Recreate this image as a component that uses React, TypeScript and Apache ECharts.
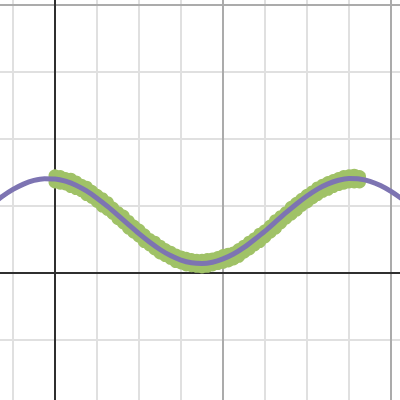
import React, { useEffect, useRef } from "react";
import * as echarts from "echarts";

// fitted curve, sampled every quarter unit
const curveX = [-1.5, -1.25, -1, -0.75, -0.5, -0.25, 0, 0.25, 0.5, 0.75, 1, 1.25, 1.5, 1.75, 2, 2.25, 2.5, 2.75, 3, 3.25, 3.5, 3.75, 4, 4.25, 4.5, 4.75, 5, 5.25, 5.5, 5.75, 6, 6.25, 6.5, 6.75, 7, 7.25, 7.5, 7.75, 8, 8.25, 8.5];
const curveY = [1.025, 1.145, 1.247, 1.327, 1.382, 1.408, 1.404, 1.371, 1.31, 1.224, 1.117, 0.994, 0.861, 0.723, 0.588, 0.463, 0.351, 0.26, 0.193, 0.153, 0.142, 0.161, 0.21, 0.283, 0.382, 0.501, 0.626, 0.763, 0.9, 1.03, 1.149, 1.252, 1.33, 1.384, 1.409, 1.403, 1.369, 1.307, 1.219, 1.111, 0.988];

// data points: x values, upper and lower edge of the band
const pointX = [0, 0.125, 0.25, 0.375, 0.5, 0.625, 0.75, 0.875, 1, 1.125, 1.25, 1.375, 1.5, 1.625, 1.75, 1.875, 2, 2.125, 2.25, 2.375, 2.5, 2.625, 2.75, 2.875, 3, 3.125, 3.25, 3.375, 3.5, 3.625, 3.75, 3.875, 4, 4.125, 4.25, 4.375, 4.5, 4.625, 4.75, 4.875, 5, 5.125, 5.25, 5.375, 5.5, 5.625, 5.75, 5.875, 6, 6.125, 6.25, 6.375, 6.5, 6.625, 6.75, 6.875, 7, 7.125, 7.25];
const upperY = [1.45, 1.44, 1.41, 1.4, 1.36, 1.31, 1.28, 1.22, 1.16, 1.11, 1.05, 0.97, 0.9, 0.85, 0.77, 0.7, 0.64, 0.57, 0.5, 0.46, 0.4, 0.35, 0.31, 0.27, 0.24, 0.22, 0.2, 0.19, 0.19, 0.2, 0.21, 0.23, 0.26, 0.28, 0.3, 0.35, 0.4, 0.46, 0.51, 0.58, 0.63, 0.7, 0.78, 0.84, 0.9, 0.98, 1.04, 1.1, 1.16, 1.21, 1.27, 1.31, 1.35, 1.38, 1.41, 1.44, 1.45, 1.46, 1.44];
const lowerY = [1.36, 1.34, 1.33, 1.29, 1.26, 1.23, 1.17, 1.13, 1.07, 1.0, 0.95, 0.89, 0.81, 0.75, 0.67, 0.61, 0.55, 0.47, 0.42, 0.36, 0.3, 0.26, 0.22, 0.17, 0.15, 0.12, 0.11, 0.1, 0.09, 0.1, 0.12, 0.14, 0.16, 0.18, 0.21, 0.25, 0.31, 0.36, 0.42, 0.47, 0.54, 0.61, 0.67, 0.75, 0.82, 0.88, 0.94, 1.01, 1.06, 1.12, 1.17, 1.22, 1.25, 1.29, 1.32, 1.34, 1.36, 1.36, 1.36];

// grid lines
const xMinor = [-1, 1, 2, 3, 5, 6, 7];
const xMajor = [4, 8];
const yMinor = [-1, 1, 2, 3];
const yMajor = [4];

const X_MIN = -55 / 42;
const X_MAX = 345 / 42;
const Y_MIN = -127 / 67;
const Y_MAX = 273 / 67;

const vLines = (vals: number[], color: string) =>
  vals.map((v) => ({ xAxis: v, lineStyle: { color, width: 2, type: "solid" } }));
const hLines = (vals: number[], color: string) =>
  vals.map((v) => ({ yAxis: v, lineStyle: { color, width: 2, type: "solid" } }));

const App: React.FC = () => {
  const chartRef = useRef<HTMLDivElement>(null);

  useEffect(() => {
    document.body.style.margin = "0";
    let myChart: echarts.ECharts | null = null;
    if (chartRef.current) {
      myChart = echarts.init(chartRef.current, undefined, { renderer: "svg" });
      myChart.setOption({
        animation: false,
        backgroundColor: "#ffffff",
        grid: { left: 0, right: 0, top: 0, bottom: 0 },
        xAxis: { type: "value", min: X_MIN, max: X_MAX, show: false },
        yAxis: { type: "value", min: Y_MIN, max: Y_MAX, show: false },
        series: [
          {
            type: "line",
            data: [],
            z: 1,
            silent: true,
            markLine: {
              z: 1,
              silent: true,
              symbol: "none",
              label: { show: false },
              lineStyle: { width: 2, type: "solid" },
              data: [
                ...vLines(xMinor, "#e0e0e0"),
                ...hLines(yMinor, "#e0e0e0"),
                ...vLines(xMajor, "#ababab"),
                ...hLines(yMajor, "#ababab"),
                ...vLines([0], "#2f2f2f"),
                ...hLines([0], "#2f2f2f"),
              ],
            },
          },
          {
            type: "scatter",
            z: 2,
            symbolSize: 13,
            itemStyle: { color: "#a0c267", opacity: 1 },
            data: [
              ...pointX.map((x, i) => [x, upperY[i]]),
              ...pointX.map((x, i) => [x, lowerY[i]]),
            ],
          },
          {
            type: "line",
            z: 3,
            smooth: 0.3,
            symbol: "none",
            lineStyle: { color: "#7d74b2", width: 5 },
            data: curveX.map((x, i) => [x, curveY[i]]),
          },
        ],
      });
    }
    return () => {
      if (myChart !== null) {
        myChart.dispose();
      }
    };
  }, []);

  return <div ref={chartRef} style={{ width: "400px", height: "400px" }} />;
};

export default App;
